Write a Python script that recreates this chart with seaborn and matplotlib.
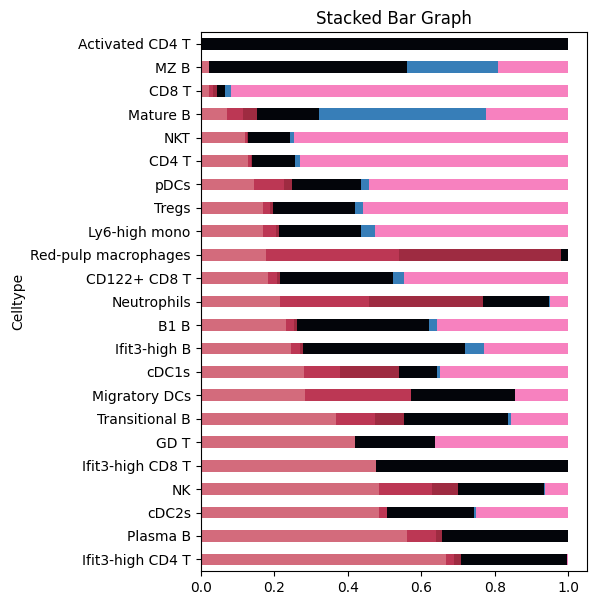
import numpy as np
import pandas as pd
import seaborn as sns
import matplotlib
matplotlib.use("Agg")
import matplotlib.pyplot as plt

# ==========================================
# DATA (fractions per celltype, top to bottom)
# ==========================================
CELLTYPES = ["Activated CD4 T", "MZ B", "CD8 T", "Mature B", "NKT", "CD4 T",
             "pDCs", "Tregs", "Ly6-high mono", "Red-pulp macrophages",
             "CD122+ CD8 T", "Neutrophils", "B1 B", "Ifit3-high B", "cDC1s",
             "Migratory DCs", "Transitional B", "GD T", "Ifit3-high CD8 T",
             "NK", "cDC2s", "Plasma B", "Ifit3-high CD4 T"]

seg1 = [0.000, 0.022, 0.022, 0.071, 0.120, 0.128, 0.144, 0.169, 0.171, 0.177,
        0.182, 0.215, 0.231, 0.247, 0.280, 0.283, 0.367, 0.421, 0.478, 0.484,
        0.486, 0.560, 0.666]
seg2 = [0.000, 0.000, 0.011, 0.043, 0.005, 0.010, 0.082, 0.021, 0.033, 0.361,
        0.027, 0.242, 0.024, 0.024, 0.098, 0.288, 0.106, 0.000, 0.000, 0.144,
        0.022, 0.079, 0.024]
seg3 = [0.000, 0.000, 0.011, 0.038, 0.005, 0.002, 0.022, 0.006, 0.008, 0.443,
        0.008, 0.310, 0.008, 0.008, 0.160, 0.000, 0.079, 0.000, 0.000, 0.071,
        0.000, 0.016, 0.019]
seg4 = [1.000, 0.541, 0.022, 0.171, 0.112, 0.116, 0.187, 0.223, 0.223, 0.019,
        0.307, 0.179, 0.359, 0.440, 0.106, 0.285, 0.285, 0.215, 0.522, 0.234,
        0.236, 0.345, 0.286]
seg5 = [0.000, 0.245, 0.016, 0.454, 0.011, 0.014, 0.022, 0.022, 0.038, 0.000,
        0.030, 0.005, 0.022, 0.052, 0.008, 0.000, 0.008, 0.000, 0.000, 0.003,
        0.005, 0.000, 0.000]
seg6 = [0.000, 0.193, 0.918, 0.223, 0.747, 0.730, 0.543, 0.559, 0.527, 0.000,
        0.446, 0.049, 0.356, 0.229, 0.348, 0.144, 0.155, 0.364, 0.000, 0.064,
        0.251, 0.000, 0.005]

COLORS = ["#d36b7c", "#bc3754", "#9e2b41", "#03050a", "#377eb8", "#f781bf"]

df = pd.DataFrame({"seg1": seg1, "seg2": seg2, "seg3": seg3,
                   "seg4": seg4, "seg5": seg5, "seg6": seg6},
                  index=CELLTYPES)
df = df.div(df.sum(axis=1), axis=0)
cum = df.cumsum(axis=1)

fig, ax = plt.subplots(figsize=(5.97, 6.05), dpi=100)

# draw cumulative totals from the outermost segment inwards
for col, color in zip(reversed(cum.columns), reversed(COLORS)):
    sns.barplot(x=cum[col].values, y=CELLTYPES, order=CELLTYPES,
                color=color, width=0.5, orient="h", ax=ax,
                saturation=1, linewidth=0)

ax.set_xlim(0, 1.05)
ax.set_xticks([0.0, 0.2, 0.4, 0.6, 0.8, 1.0])
ax.set_xticklabels(["0.0", "0.2", "0.4", "0.6", "0.8", "1.0"])
ax.set_title("Stacked Bar Graph")
ax.set_ylabel("Celltype")
ax.set_xlabel("")

plt.subplots_adjust(left=0.336, right=0.983, top=0.947, bottom=0.056)
plt.savefig("out.png", dpi=100)
